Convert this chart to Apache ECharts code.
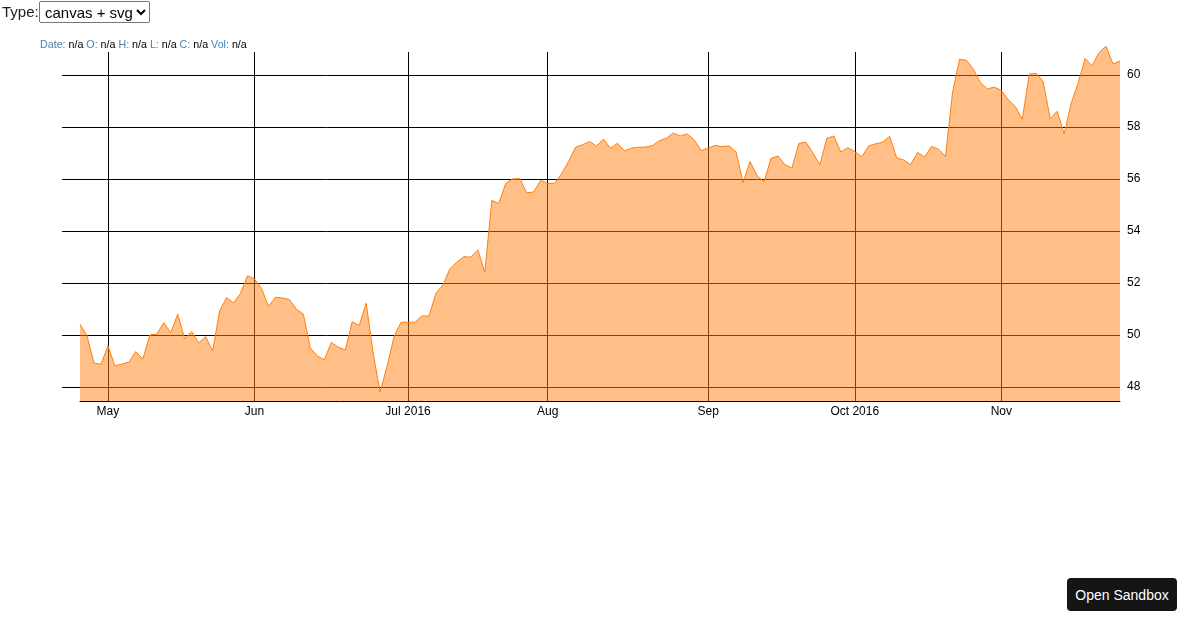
<!DOCTYPE html>
<html>
<head>
<meta charset="utf-8">
<script src="https://cdn.jsdelivr.net/npm/echarts@6/dist/echarts.min.js"></script>
<style>
  html, body { margin: 0; padding: 0; background: #fff; }
  #chart { position: absolute; left: 0; top: 0; width: 1200px; height: 630px; }
  #typelbl { position: absolute; left: 2px; top: 3px; z-index: 5; font-family: "Liberation Sans", Arial, sans-serif; font-size: 15px; color: #222; line-height: 18px; }
  #typesel { position: absolute; left: 39px; top: 1px; z-index: 5; font-family: "Liberation Sans", Arial, sans-serif; font-size: 15px; height: 22px; padding: 0 0 0 1px; }
  #sandbox { position: absolute; left: 1067px; top: 578px; width: 110px; height: 33px; background: #151515; color: #fff; border: none; border-radius: 4px; font-family: "Liberation Sans", Arial, sans-serif; font-size: 14px; z-index: 5; padding: 0; }
</style>
</head>
<body>
<div id="chart"></div>
<span id="typelbl">Type:</span>
<select id="typesel"><option>canvas + svg</option><option>canvas</option><option>svg</option></select>
<button id="sandbox">Open Sandbox</button>
<script>
// Trading days (categories)
var dates = [
 '2016-04-26','2016-04-27','2016-04-28','2016-04-29',
 '2016-05-02','2016-05-03','2016-05-04','2016-05-05','2016-05-06','2016-05-09','2016-05-10','2016-05-11','2016-05-12','2016-05-13',
 '2016-05-16','2016-05-17','2016-05-18','2016-05-19','2016-05-20','2016-05-23','2016-05-24','2016-05-25','2016-05-26','2016-05-27','2016-05-31',
 '2016-06-01','2016-06-02','2016-06-03','2016-06-06','2016-06-07','2016-06-08','2016-06-09','2016-06-10','2016-06-13','2016-06-14','2016-06-15',
 '2016-06-16','2016-06-17','2016-06-20','2016-06-21','2016-06-22','2016-06-23','2016-06-24','2016-06-27','2016-06-28','2016-06-29','2016-06-30',
 '2016-07-01','2016-07-05','2016-07-06','2016-07-07','2016-07-08','2016-07-11','2016-07-12','2016-07-13','2016-07-14','2016-07-15',
 '2016-07-18','2016-07-19','2016-07-20','2016-07-21','2016-07-22','2016-07-25','2016-07-26','2016-07-27','2016-07-28','2016-07-29',
 '2016-08-01','2016-08-02','2016-08-03','2016-08-04','2016-08-05','2016-08-08','2016-08-09','2016-08-10','2016-08-11','2016-08-12',
 '2016-08-15','2016-08-16','2016-08-17','2016-08-18','2016-08-19','2016-08-22','2016-08-23','2016-08-24','2016-08-25','2016-08-26',
 '2016-08-29','2016-08-30','2016-08-31',
 '2016-09-01','2016-09-02','2016-09-06','2016-09-07','2016-09-08','2016-09-09','2016-09-12','2016-09-13','2016-09-14','2016-09-15','2016-09-16',
 '2016-09-19','2016-09-20','2016-09-21','2016-09-22','2016-09-23','2016-09-26','2016-09-27','2016-09-28','2016-09-29','2016-09-30',
 '2016-10-03','2016-10-04','2016-10-05','2016-10-06','2016-10-07','2016-10-10','2016-10-11','2016-10-12','2016-10-13','2016-10-14',
 '2016-10-17','2016-10-18','2016-10-19','2016-10-20','2016-10-21','2016-10-24','2016-10-25','2016-10-26','2016-10-27','2016-10-28','2016-10-31',
 '2016-11-01','2016-11-02','2016-11-03','2016-11-04','2016-11-07','2016-11-08','2016-11-09','2016-11-10','2016-11-11',
 '2016-11-14','2016-11-15','2016-11-16','2016-11-17','2016-11-18','2016-11-21','2016-11-22','2016-11-23','2016-11-25'
];

// Close values
var closes = [
 50.41,49.97,48.92,48.87,
 49.58,48.81,48.88,48.95,49.36,49.07,50.00,50.03,50.47,50.08,
 50.80,49.85,50.13,49.69,49.94,49.38,50.92,51.43,51.23,51.60,52.28,
 52.15,51.79,51.10,51.45,51.42,51.36,50.99,50.80,49.49,49.20,49.04,
 49.71,49.53,49.42,50.51,50.36,51.22,49.30,47.80,48.80,49.94,50.49,
 50.49,50.49,50.73,50.73,51.60,51.92,52.54,52.80,53.01,52.99,
 53.27,52.41,55.17,55.06,55.83,56.00,56.01,55.46,55.50,55.94,
 55.83,55.83,56.20,56.67,57.22,57.31,57.44,57.27,57.53,57.18,
 57.37,57.08,57.18,57.22,57.22,57.28,57.47,57.56,57.76,57.65,
 57.73,57.50,57.09,
 57.18,57.29,57.24,57.27,57.03,55.86,56.67,56.12,55.89,56.79,56.88,
 56.55,56.41,57.37,57.41,57.00,56.54,57.56,57.65,57.03,57.20,
 57.05,56.85,57.27,57.35,57.41,57.64,56.81,56.73,56.55,57.02,
 56.84,57.25,57.14,56.87,59.30,60.60,60.56,60.22,59.70,59.46,59.53,
 59.40,59.04,58.78,58.29,60.03,60.06,59.74,58.31,58.60,
 57.73,58.91,59.68,60.63,60.35,60.86,61.10,60.42,60.53
];

// X tick labels (month starts on the trading-day axis)
var tickDates  = ['2016-05-02','2016-06-01','2016-07-01','2016-08-01','2016-09-01','2016-10-03','2016-11-01'];
var tickLabels = ['May','Jun','Jul 2016','Aug','Sep','Oct 2016','Nov'];

// Y tick labels
var yTicks = [48, 50, 52, 54, 56, 58, 60];

var FONT = '"Liberation Sans", Arial, sans-serif';
function isTick(idx, val) { return tickDates.indexOf(val) >= 0; }

var chart = echarts.init(document.getElementById('chart'), null, { renderer: 'canvas' });
chart.setOption({
  animation: false,
  backgroundColor: '#fff',
  title: {
    left: 40, top: 40, padding: 0,
    text: '{l|Date:} {v|n/a} {l|O:} {v|n/a} {l|H:} {v|n/a} {l|L:} {v|n/a} {l|C:} {v|n/a} {l|Vol:} {v|n/a}',
    textStyle: {
      fontFamily: FONT, fontSize: 10.7, fontWeight: 'normal',
      rich: {
        l: { color: '#4682b4', fontFamily: FONT, fontSize: 10.7 },
        v: { color: '#000', fontFamily: FONT, fontSize: 10.7 }
      }
    }
  },
  grid: [
    { left: 62, right: 80, top: 23, height: 416 },
    { left: 80, right: 80, top: 52, height: 349 }
  ],
  xAxis: [
    { gridIndex: 0, type: 'value', show: false, min: 0, max: 1 },
    {
      gridIndex: 1, type: 'category', data: dates, boundaryGap: false,
      axisLine: { show: true, lineStyle: { color: '#000', width: 1 } },
      axisTick: { show: false },
      axisLabel: {
        interval: isTick, margin: 5, color: '#000', fontSize: 12, fontFamily: FONT,
        formatter: function (v) { var k = tickDates.indexOf(v); return k >= 0 ? tickLabels[k] : ''; }
      },
      splitLine: { show: true, interval: isTick, lineStyle: { color: '#000', width: 1 } }
    }
  ],
  yAxis: [
    {
      gridIndex: 0, type: 'value', position: 'right', min: 46, max: 62, interval: 2,
      axisLine: { show: false }, axisTick: { show: false },
      axisLabel: {
        margin: 7, color: '#000', fontSize: 12, fontFamily: FONT,
        showMinLabel: false, showMaxLabel: false,
        formatter: function (v) { return yTicks.indexOf(v) >= 0 ? String(v) : ''; }
      },
      splitLine: { show: true, showMinLine: false, showMaxLine: false, lineStyle: { color: '#000', width: 1 } }
    },
    { gridIndex: 1, type: 'value', show: false, min: 47.46, max: 60.88 }
  ],
  series: [{
    type: 'line', xAxisIndex: 1, yAxisIndex: 1, data: closes,
    showSymbol: false, symbol: 'none', clip: false, silent: true,
    lineStyle: { color: '#ff7f0e', width: 1 },
    itemStyle: { color: '#ff7f0e' },
    areaStyle: { color: '#ff7f0e', opacity: 0.5, origin: 'start' }
  }]
});
</script>
</body>
</html>
